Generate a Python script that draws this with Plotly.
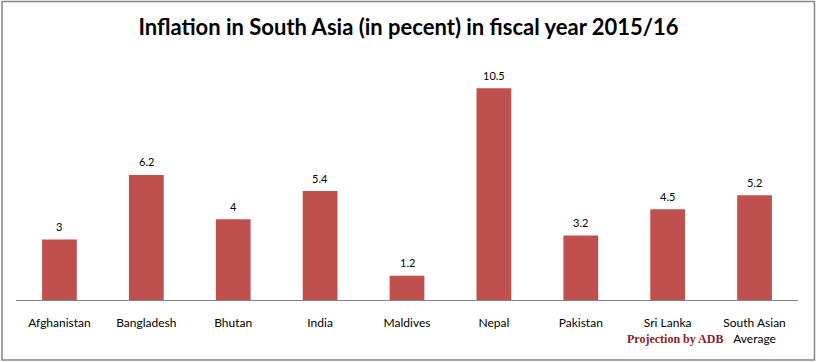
import plotly.graph_objects as go

categories = ["Afghanistan", "Bangladesh", "Bhutan", "India", "Maldives", "Nepal",
              "Pakistan", "Sri Lanka", "South Asian<br>Average"]
values = [3, 6.2, 4, 5.4, 1.2, 10.5, 3.2, 4.5, 5.2]
value_labels = ["3", "6.2", "4", "5.4", "1.2", "10.5", "3.2", "4.5", "5.2"]

W, H = 817, 362
L, R, T, B = 15.5, 18.5, 58, 62
pw, ph = W - L - R, H - T - B
FONT = "Lato, Carlito, sans-serif"

fig = go.Figure(go.Bar(
    x=categories, y=values,
    marker=dict(color="#C0504D", line=dict(width=0)),
    width=0.4,
))

def px(x):
    return (x - L) / pw

def py(y):
    return (H - B - y) / ph

annotations = [dict(x=c, y=v, text=t, xref="x", yref="y", showarrow=False,
                    yshift=13, yanchor="middle",
                    font=dict(family=FONT, size=11, color="#000000"))
               for c, v, t in zip(categories, values, value_labels)]
annotations.append(dict(text="<b>Projection by ADB</b>", xref="paper", yref="paper",
                        x=px(675), y=py(339), xanchor="center", yanchor="middle",
                        showarrow=False,
                        font=dict(family="Liberation Serif, serif", size=12, color="#8B1A2B")))

fig.update_layout(
    width=W, height=H,
    margin=dict(l=L, r=R, t=T, b=B, pad=0),
    paper_bgcolor="white", plot_bgcolor="white",
    showlegend=False,
    title=dict(text="<b>Inflation in South Asia (in pecent) in fiscal year 2015/16</b>",
               x=0.5, xanchor="center", y=1 - 27 / H, yanchor="middle",
               font=dict(family=FONT, size=22, color="#000000")),
    xaxis=dict(showline=True, linecolor="#868686", linewidth=1, ticks="",
               ticklabelstandoff=12,
               tickfont=dict(family=FONT, size=12, color="#000000"),
               showgrid=False, zeroline=False),
    yaxis=dict(range=[0, 12], visible=False, showgrid=False, zeroline=False),
    shapes=[dict(type="rect", xref="paper", yref="paper",
                 x0=px(1.5), x1=px(815), y0=py(1.5), y1=py(360),
                 line=dict(color="#868686", width=1.5), fillcolor="rgba(0,0,0,0)")],
    annotations=annotations,
)

fig.write_html("out.html", config={"displayModeBar": False},
               post_script="document.body.style.margin='0';")
